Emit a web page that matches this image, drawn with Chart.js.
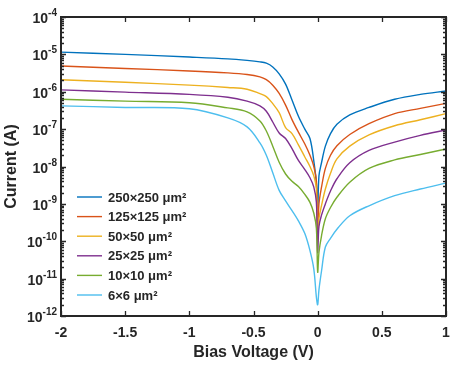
<!DOCTYPE html>
<html lang="en">
<head>
<meta charset="UTF-8">
<title>Dark current vs bias</title>
<style>
  html, body { margin: 0; padding: 0; background: #fff; }
</style>
</head>
<body>
<canvas id="myChart" width="474" height="368"></canvas>

<script src="https://cdn.jsdelivr.net/npm/chart.js"></script>
<script>
// data (current in A)
const voltage = [-2, -1.5, -1, -0.7, -0.55, -0.45, -0.4, -0.35, -0.3, -0.25, -0.2, -0.15, -0.1, -0.06, -0.03, -0.01,
                 0, 0.01, 0.03, 0.06, 0.1, 0.15, 0.25, 0.4, 0.6, 0.8, 1];

const labels = ['250×250 μm²', '125×125 μm²', '50×50 μm²', '25×25 μm²', '10×10 μm²', '6×6 μm²'];

const i250 = [1.15e-5, 1.0e-5, 8.5e-6, 7.6e-6, 6.9e-6, 6.3e-6, 5.8e-6, 4.6e-6, 3.0e-6, 1.6e-6, 6.0e-7, 2.2e-7, 1.0e-7, 5.6e-8, 1.4e-8, 3.5e-9,
              6e-10, 5.6e-9, 1.26e-8, 3.5e-8, 7.6e-8, 1.35e-7, 2.4e-7, 3.8e-7, 6.3e-7, 8.5e-7, 1.05e-6];
const i125 = [4.9e-6, 4.2e-6, 3.6e-6, 3.2e-6, 2.9e-6, 2.5e-6, 2.1e-6, 1.5e-6, 9.0e-7, 4.4e-7, 1.8e-7, 8.3e-8, 4.0e-8, 2.0e-8, 1.0e-8, 4.0e-9,
              2e-10, 1e-9, 2.8e-9, 8.9e-9, 2e-8, 3.6e-8, 7.2e-8, 1.4e-7, 2.6e-7, 3.6e-7, 4.9e-7];
const i50 = [2.1e-6, 1.8e-6, 1.5e-6, 1.3e-6, 1.17e-6, 8.9e-7, 7.4e-7, 4.8e-7, 2.75e-7, 1.1e-7, 7.6e-8, 3.8e-8, 1.8e-8, 1.0e-8, 5.6e-9, 2.5e-9,
             1e-10, 4e-10, 9e-10, 2.5e-9, 6.6e-9, 1.6e-8, 3.5e-8, 7e-8, 1.23e-7, 1.78e-7, 2.6e-7];
const i25 = [1.12e-6, 9.8e-7, 8.5e-7, 7.1e-7, 5.6e-7, 4.2e-7, 3.0e-7, 1.55e-7, 7.9e-8, 5.6e-8, 3.0e-8, 1.45e-8, 8.3e-9, 5e-9, 2.8e-9, 1.1e-9,
             5e-11, 2.5e-10, 5e-10, 1e-9, 2.2e-9, 4.7e-9, 1.26e-8, 2.7e-8, 4.5e-8, 6.8e-8, 9.5e-8];
const i10 = [6.3e-7, 5.6e-7, 5.1e-7, 3.7e-7, 2.9e-7, 1.66e-7, 8.9e-8, 3.5e-8, 1.3e-8, 6.3e-9, 4.0e-9, 2.9e-9, 1.8e-9, 1.1e-9, 5.6e-10, 2.2e-10,
             1.5e-11, 5e-11, 1.4e-10, 4e-10, 8e-10, 1.5e-9, 3.8e-9, 8.9e-9, 1.5e-8, 2.1e-8, 2.95e-8];
const i6 = [4.2e-7, 3.8e-7, 3.5e-7, 2e-7, 1.15e-7, 4.3e-8, 2.0e-8, 6.8e-9, 2.3e-9, 1.2e-9, 6.6e-10, 3.5e-10, 1.6e-10, 5.6e-11, 1.8e-11, 3.2e-12,
            2e-12, 5e-12, 1.6e-11, 7e-11, 1.2e-10, 2.1e-10, 4.8e-10, 8.9e-10, 1.66e-9, 2.5e-9, 3.6e-9];

const xTicks = [-2, -1.5, -1, -0.5, 0, 0.5, 1];
const yExponents = [-12, -11, -10, -9, -8, -7, -6, -5, -4];

// matlab default line colours
const colors = ['#0072BD', '#D95319', '#EDB120', '#7E2F8E', '#77AC30', '#4DBEEE'];
const series = [i250, i125, i50, i25, i10, i6];

const datasets = series.map((arr, k) => ({
    label: labels[k],
    data: voltage.map((v, i) => ({ x: v, y: arr[i] })),
    borderColor: colors[k],
    borderWidth: 1.4,
    pointRadius: 0,
    fill: false,
    tension: 0.35,
    order: series.length - k   // later curves on top, like matlab
}));

const FONT = '"Liberation Sans", Arial, sans-serif';
const AXIS = '#262626';

// frame, inward ticks, superscript labels, titles and legend
const matlabAxes = {
    id: 'matlabAxes',
    afterDraw(chart) {
        const ctx = chart.ctx;
        const a = chart.chartArea;
        const xs = chart.scales.x;
        const ys = chart.scales.y;
        ctx.save();
        ctx.strokeStyle = AXIS;
        ctx.fillStyle = AXIS;

        // ticks
        ctx.lineWidth = 1.3;
        ctx.beginPath();
        xTicks.forEach(t => {
            const px = Math.round(xs.getPixelForValue(t)) + 0.5;
            ctx.moveTo(px, a.bottom); ctx.lineTo(px, a.bottom - 5);
            ctx.moveTo(px, a.top); ctx.lineTo(px, a.top + 5);
        });
        yExponents.forEach(e => {
            const py = Math.round(ys.getPixelForValue(Math.pow(10, e))) + 0.5;
            ctx.moveTo(a.left, py); ctx.lineTo(a.left + 5, py);
            ctx.moveTo(a.right, py); ctx.lineTo(a.right - 5, py);
            if (e < -4) {
                for (let m = 2; m <= 9; m++) {
                    const pm = Math.round(ys.getPixelForValue(m * Math.pow(10, e))) + 0.5;
                    ctx.moveTo(a.left, pm); ctx.lineTo(a.left + 3, pm);
                    ctx.moveTo(a.right, pm); ctx.lineTo(a.right - 3, pm);
                }
            }
        });
        ctx.stroke();

        // box
        ctx.lineWidth = 2;
        ctx.strokeRect(a.left, a.top, a.right - a.left, a.bottom - a.top);

        // x tick labels
        ctx.font = 'bold 14px ' + FONT;
        ctx.textAlign = 'center';
        ctx.textBaseline = 'alphabetic';
        xTicks.forEach(t => {
            ctx.fillText(String(t), xs.getPixelForValue(t), a.bottom + 21);
        });

        // y tick labels 10^n
        yExponents.forEach(e => {
            const py = ys.getPixelForValue(Math.pow(10, e));
            const exp = String(e);
            ctx.font = 'bold 10px ' + FONT;
            const we = ctx.measureText(exp).width;
            ctx.font = 'bold 14px ' + FONT;
            const wb = ctx.measureText('10').width;
            const right = a.left - 4;
            ctx.textAlign = 'left';
            ctx.fillText('10', right - we - wb, py + 6);
            ctx.font = 'bold 10px ' + FONT;
            ctx.fillText(exp, right - we, py - 1);
        });

        // axis titles
        ctx.font = 'bold 16px ' + FONT;
        ctx.textAlign = 'center';
        ctx.textBaseline = 'middle';
        ctx.fillText('Bias Voltage (V)', (a.left + a.right) / 2, a.bottom + 37);
        ctx.save();
        ctx.translate(12, (a.top + a.bottom) / 2);
        ctx.rotate(-Math.PI / 2);
        ctx.fillText('Current (A)', 0, 0);
        ctx.restore();

        // legend
        ctx.font = 'bold 13px ' + FONT;
        ctx.textAlign = 'left';
        chart.data.datasets.forEach((ds, k) => {
            const y = 197 + k * 19.6;
            ctx.strokeStyle = ds.borderColor;
            ctx.lineWidth = 1.4;
            ctx.beginPath();
            ctx.moveTo(a.left + 16, y); ctx.lineTo(a.left + 41, y);
            ctx.stroke();
            ctx.fillStyle = AXIS;
            ctx.fillText(ds.label, a.left + 47, y + 1);
        });
        ctx.restore();
    }
};

const config = {
    type: 'line',
    data: { datasets: datasets },
    options: {
        responsive: false,
        animation: false,
        devicePixelRatio: 1,
        layout: { padding: { left: 61, right: 28, top: 17, bottom: 52 } },
        plugins: {
            legend: { display: false },
            tooltip: { enabled: false }
        },
        scales: {
            x: { type: 'linear', min: -2, max: 1, display: false },
            y: { type: 'logarithmic', min: 1e-12, max: 1e-4, display: false }
        }
    },
    plugins: [matlabAxes]
};

new Chart(document.getElementById('myChart').getContext('2d'), config);
</script>
</body>
</html>
